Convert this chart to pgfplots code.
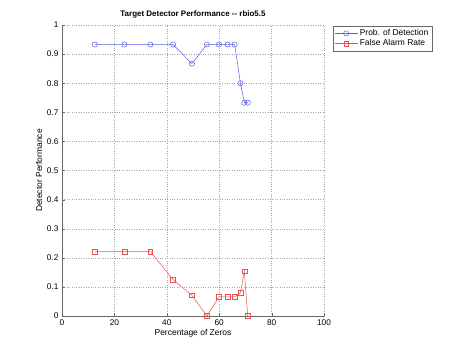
\documentclass[border=0pt]{standalone}
\usepackage{fontspec}
\setmainfont{Liberation Sans}
\usepackage{pgfplots}
\pgfplotsset{compat=1.18}
\definecolor{pblue}{RGB}{90,90,235}
\definecolor{pred}{RGB}{235,80,80}
\begin{document}
\begin{tikzpicture}[x=1bp,y=1bp]
\useasboundingbox (0,0) rectangle (474,355);
\begin{axis}[
  at={(62bp,39bp)}, anchor=origin,
  scale only axis, width=262bp, height=291bp,
  xmin=0, xmax=100, ymin=0, ymax=1,
  xtick={0,20,...,100},
  ytick={0,0.1,...,1.0},
  yticklabel style={/pgf/number format/fixed},
  /pgf/number format/assume math mode=true,
  axis lines=left,
  axis line style={-, gray!80!black},
  tick style={gray!80!black},
  tick align=inside,
  major tick length=3bp,
  grid=major,
  major grid style={dotted, gray!70},
  ticklabel style={font=\fontsize{8.3}{10}\selectfont},
  title={\bfseries Target Detector Performance {-}{-} rbio5.5},
  title style={font=\fontsize{8}{10}\selectfont, yshift=-3bp},
  xlabel={Percentage of Zeros},
  ylabel={Detector Performance},
  label style={font=\fontsize{8.5}{10}\selectfont},
  xlabel style={yshift=3bp},
  ylabel style={yshift=-2bp},
  legend style={at={(1.034,0.997)}, anchor=north west, font=\fontsize{8.5}{10}\selectfont, draw=gray!80!black, inner sep=1.5bp, row sep=-1.5bp},
  legend cell align=left,
  legend image code/.code={
    \draw[mark repeat=2,mark phase=2] plot coordinates {(0cm,0cm) (0.4cm,0cm) (0.8cm,0cm)};
  },
]
\addplot[pblue, mark=o, mark size=2.6bp, line width=0.5pt] coordinates {
(12.5,0.933) (23.8,0.933) (33.7,0.933) (42.4,0.933) (49.6,0.867) (55.3,0.933)
(59.9,0.933) (63.2,0.933) (65.9,0.933) (68.1,0.800) (69.6,0.733) (70.9,0.733)};
\addlegendentry{Prob. of Detection}
\addplot[pred, mark=square, mark size=2.4bp, line width=0.5pt] coordinates {
(12.5,0.222) (23.8,0.222) (33.7,0.222) (42.4,0.125) (49.6,0.071) (55.3,0.0)
(59.9,0.066) (63.2,0.066) (65.9,0.066) (68.1,0.079) (69.6,0.154) (70.9,0.0)};
\addlegendentry{False Alarm Rate}
\end{axis}
\end{tikzpicture}
\end{document}
